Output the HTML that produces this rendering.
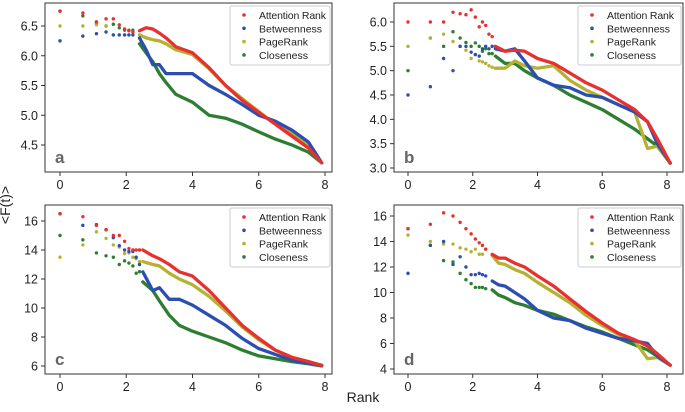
<!DOCTYPE html>
<html><head><meta charset="utf-8"><style>
html,body{margin:0;padding:0;background:#fff;}
svg{display:block;font-family:"Liberation Sans","DejaVu Sans",sans-serif;}
</style></head><body>
<svg id="chart" width="685" height="412" viewBox="0 0 685 412">
<text x="10" y="205" font-size="14" fill="#222" transform="rotate(-90 10 205)" text-anchor="middle">&lt;F(t)&gt;</text>
<text x="363" y="402" font-size="14" fill="#222" text-anchor="middle">Rank</text>
</svg>
<script>
const seriesNames = ["Attention Rank","Betweenness","PageRank","Closeness"];
const colors = ["#e8312f","#2a4fb0","#b5b233","#2e7d32"];

const aScatterX = [0,0.69,1.1,1.39,1.61,1.79,1.95,2.08,2.2];
const aScatter = [
 [6.75,6.72,6.57,6.62,6.62,6.52,6.45,6.42,6.4],
 [6.25,6.33,6.37,6.4,6.35,6.35,6.35,6.35,6.35],
 [6.5,6.5,6.52,6.5,6.35,6.35,6.35,6.35,6.35],
 [6.75,6.67,6.55,6.5,6.53,6.47,6.43,6.43,6.43]];
const aLineX = [2.4,2.6,2.8,3,3.2,3.5,4,4.5,5,5.5,6,6.5,7,7.5,7.9];
const aLine = [
 [6.42,6.47,6.45,6.38,6.3,6.15,6.05,5.8,5.5,5.25,5.05,4.85,4.65,4.45,4.2],
 [6.3,6.1,5.85,5.85,5.7,5.7,5.7,5.5,5.35,5.18,5.0,4.9,4.75,4.55,4.2],
 [6.35,6.3,6.27,6.25,6.2,6.1,6.02,5.78,5.5,5.28,5.06,4.85,4.7,4.48,4.2],
 [6.2,6.05,5.9,5.7,5.55,5.35,5.22,5.0,4.95,4.85,4.72,4.6,4.5,4.38,4.2]];
const aTicks = [4.5,5.0,5.5,6.0,6.5];

const bScatterX = [0,0.69,1.1,1.39,1.61,1.79,1.95,2.08,2.2,2.3,2.4,2.5,2.6];
const bScatter = [
 [6.0,6.0,6.0,6.2,6.17,6.15,6.25,6.1,5.9,6.0,5.93,5.75,5.7],
 [4.5,4.67,5.25,5.0,5.5,5.5,5.38,5.33,5.3,5.45,5.5,5.45,5.5],
 [5.5,5.67,5.75,5.6,5.5,5.42,5.25,5.33,5.2,5.18,5.15,5.1,5.07],
 [5.0,5.67,5.5,5.8,5.67,5.58,5.5,5.57,5.5,5.4,5.45,5.35,5.35]];
const bLineX = [2.7,3,3.3,3.6,4,4.5,5,5.5,6,6.5,7,7.4,7.7,8.1];
const bLine = [
 [5.5,5.4,5.42,5.4,5.25,5.15,4.95,4.75,4.6,4.4,4.2,3.95,3.6,3.1],
 [5.45,5.4,5.45,5.2,4.85,4.7,4.65,4.5,4.45,4.3,4.15,3.95,3.5,3.1],
 [5.05,5.05,5.2,5.1,5.05,5.1,4.8,4.6,4.45,4.3,4.15,3.4,3.45,3.1],
 [5.3,5.15,5.15,5.0,4.85,4.7,4.5,4.35,4.2,4.0,3.8,3.6,3.45,3.1]];
const bTicks = [3.0,3.5,4.0,4.5,5.0,5.5,6.0];

const cScatterX = [0,0.69,1.1,1.39,1.61,1.79,1.95,2.08,2.2,2.3,2.4];
const cScatter = [
 [16.5,16.3,15.7,15.4,15.0,15.0,14.6,14.1,14.0,14.0,14.0],
 [16.5,15.7,15.75,15.4,14.85,14.3,14.0,13.9,13.9,13.5,13.0],
 [13.5,14.35,15.25,14.8,14.35,14.2,13.75,13.8,13.5,13.4,13.2],
 [15.0,14.7,13.8,13.6,13.5,13.0,13.25,13.1,12.9,12.4,12.5]];
const cLineX = [2.5,2.8,3,3.3,3.6,4,4.5,5,5.5,6,6.5,7,7.5,7.9];
const cLine = [
 [14.0,13.6,13.4,13.0,12.5,12.2,11.2,10.0,8.8,7.9,7.1,6.6,6.3,6.05],
 [12.5,11.2,11.4,10.6,10.6,10.2,9.5,8.8,7.9,7.2,6.8,6.4,6.2,6.05],
 [13.2,13.0,12.9,12.4,12.0,11.6,10.8,9.8,8.7,7.8,7.1,6.6,6.3,6.05],
 [11.8,11.2,10.5,9.5,8.8,8.4,8.0,7.6,7.1,6.7,6.5,6.3,6.15,6.0]];
const cTicks = [6,8,10,12,14,16];

const dScatterX = [0,0.69,1.1,1.39,1.61,1.79,1.95,2.08,2.2,2.3,2.4];
const dScatter = [
 [15.0,15.35,16.25,16.0,15.5,15.0,14.6,14.2,13.9,13.7,13.4],
 [11.5,13.7,14.0,12.2,12.8,12.0,11.4,11.4,11.5,11.4,11.3],
 [14.5,14.0,13.8,13.8,13.5,13.4,13.2,13.4,13.0,13.0,13.4],
 [15.0,13.7,12.5,12.4,11.5,11.0,10.7,10.4,10.4,10.4,10.3]];
const dLineX = [2.6,2.8,3,3.3,3.6,4,4.5,5,5.5,6,6.5,7,7.4,7.7,8.1];
const dLine = [
 [13.0,12.7,12.7,12.3,12.0,11.3,10.5,9.5,8.5,7.6,6.8,6.3,5.8,5.2,4.3],
 [10.9,10.6,10.5,10.0,9.5,8.6,8.0,7.8,7.2,6.8,6.4,6.2,6.0,5.0,4.3],
 [12.9,12.3,12.2,11.8,11.5,10.8,10.0,9.2,8.2,7.4,6.7,6.2,4.8,4.9,4.3],
 [10.2,9.8,9.6,9.2,9.0,8.6,8.3,7.8,7.3,6.9,6.4,5.9,5.5,5.0,4.3]];
const dTicks = [4,6,8,10,12,14,16];

const xTicks = [0,2,4,6,8];

const NS = "http://www.w3.org/2000/svg";
const svg = document.getElementById("chart");
function mk(tag, attrs, parent){
  const e = document.createElementNS(NS, tag);
  for (const k in attrs) e.setAttribute(k, attrs[k]);
  (parent||svg).appendChild(e);
  return e;
}

const panels = [
 {id:"a", L:45,R:332,T:3,B:172, x0:60,x8:325, yv1:6.5,yp1:26, yv2:4.5,yp2:145, sx:aScatterX,s:aScatter,lx:aLineX,l:aLine,ticks:aTicks,dec:1, legX:230},
 {id:"b", L:394,R:683,T:3,B:172, x0:408,x8:667, yv1:6.0,yp1:22, yv2:3.0,yp2:168, sx:bScatterX,s:bScatter,lx:bLineX,l:bLine,ticks:bTicks,dec:1, legX:578},
 {id:"c", L:45,R:332,T:205,B:374, x0:60,x8:325, yv1:16,yp1:221, yv2:6,yp2:366, sx:cScatterX,s:cScatter,lx:cLineX,l:cLine,ticks:cTicks,dec:0, legX:230},
 {id:"d", L:394,R:683,T:205,B:374, x0:408,x8:667, yv1:16,yp1:216, yv2:4,yp2:369, sx:dScatterX,s:dScatter,lx:dLineX,l:dLine,ticks:dTicks,dec:0, legX:578}
];

panels.forEach(p=>{
  const g = mk("g",{});
  
  
  const xs = v => p.x0 + (p.x8-p.x0)*v/8;
  const ys = v => p.yp1 + (p.yp2-p.yp1)*(v-p.yv1)/(p.yv2-p.yv1);
  xTicks.forEach(t=>{
    const x = xs(t);
    const tl = mk("line",{x1:x,x2:x,y1:p.B,y2:p.B+4,stroke:"#333","stroke-width":1},g);
    
    
    const tx = mk("text",{x:x,y:p.B+17,"font-size":12.5,"text-anchor":"middle",fill:"#222"},g);
    
    
    tx.textContent = t;
  });
  p.ticks.forEach(t=>{
    const y = ys(t);
    const tl = mk("line",{x1:p.L-4,x2:p.L,y1:y,y2:y,stroke:"#333","stroke-width":1},g);
    
    
    const tx = mk("text",{x:p.L-7,y:y+4.5,"font-size":12.5,"text-anchor":"end",fill:"#222"},g);
    
    
    tx.textContent = t.toFixed(p.dec);
  });
  for (let si=3; si>=0; si--){
    const sg = mk("g",{},g);
    
    
    p.sx.forEach((xv,i)=>{
      const c = mk("circle",{cx:xs(xv),cy:ys(p.s[si][i]),r:1.7,fill:colors[si]},sg);
      
      
    });
    const pts = p.lx.map((xv,i)=>xs(xv).toFixed(1)+","+ys(p.l[si][i]).toFixed(1)).join(" ");
    const pl = mk("polyline",{points:pts,fill:"none",stroke:colors[si],"stroke-width":3.3,"stroke-linejoin":"round","stroke-linecap":"round"},sg);
    
    
  }
  const fr = mk("rect",{x:p.L,y:p.T,width:p.R-p.L,height:p.B-p.T,fill:"none",stroke:"#333","stroke-width":1},g);
  
  
  const lt = mk("text",{x:p.L+10,y:p.B-9,"font-size":17,"font-weight":"bold",fill:"#666"},g);
  
  
  lt.textContent = p.id;
  const lg = mk("g",{},g);
  
  
  mk("rect",{x:p.legX,y:p.T+3,width:p.R-p.legX-2,height:59,fill:"#fff",stroke:"#ccc","stroke-width":1,rx:2},lg);
  seriesNames.forEach((n,i)=>{
    const y = p.T+12+i*13.3;
    const m = mk("circle",{cx:p.legX+14,cy:y,r:1.8,fill:colors[i]},lg);
    
    
    const t = mk("text",{x:p.legX+29,y:y+4,"font-size":10.5,fill:"#222"},lg);
    
    
    if (n.length > 12) t.setAttribute('textLength', 67);
    t.textContent = n;
  });
});
</script>
</body></html>
